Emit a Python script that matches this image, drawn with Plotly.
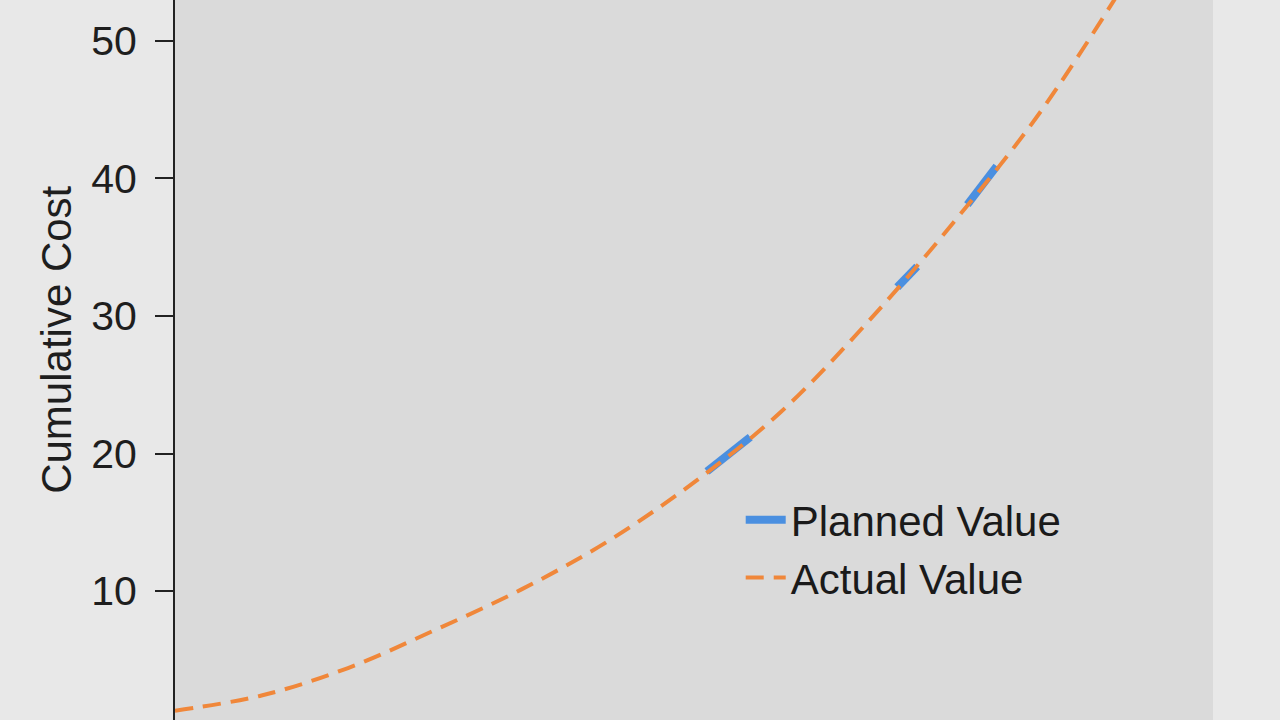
import plotly.graph_objects as go

# periods and cumulative cost
periods = [0, 1, 2, 3, 4, 5, 6, 7, 8, 9, 10, 11]
actual_value = [1.3, 2.4, 4.4, 7.15, 10.1, 13.6, 17.9, 23.0, 29.5, 36.8, 44.8, 54.4]

# planned value is only visible in a few short stretches (None = hidden)
planned_periods = [6.15, 6.4, 6.65, None, 8.35, 8.58, None, 9.16, 9.33, 9.5]
planned_value = [18.7, 19.9, 21.2, None, 32.1, 33.6, None, 38.1, 39.4, 40.9]

fig = go.Figure()

fig.add_trace(
    go.Scatter(
        x=planned_periods,
        y=planned_value,
        mode="lines",
        name="Planned Value",
        line=dict(color="#4a8fe0", width=8),
        connectgaps=False,
    )
)

fig.add_trace(
    go.Scatter(
        x=periods,
        y=actual_value,
        mode="lines",
        name="Actual Value",
        line=dict(color="#f0873a", width=4, dash="18px,10px", shape="spline"),
    )
)

fig.update_layout(
    width=1280,
    height=720,
    margin=dict(l=175, r=67, t=0, b=0),
    paper_bgcolor="#e8e8e8",
    plot_bgcolor="#dadada",
    font=dict(family="Liberation Sans, Arial, sans-serif", color="#1e1e1e"),
    showlegend=True,
    legend=dict(
        x=0.545,
        y=0.325,
        xanchor="left",
        yanchor="top",
        bgcolor="rgba(0,0,0,0)",
        font=dict(size=42, color="#1a1a1a"),
        itemwidth=40,
    ),
)

# y title placed as an annotation so it sits where the reference has it
fig.add_annotation(
    text="Cumulative Cost",
    textangle=-90,
    xref="paper",
    yref="paper",
    x=-0.1137,
    y=0.528,
    xanchor="center",
    yanchor="middle",
    showarrow=False,
    font=dict(size=42, color="#1e1e1e"),
)

fig.update_xaxes(range=[0, 12], visible=False)

fig.update_yaxes(
    range=[0.62, 52.98],
    tickvals=[0, 10, 20, 30, 40, 50],
    ticks="outside",
    ticklen=18,
    tickwidth=2,
    tickcolor="#222222",
    tickfont=dict(size=41, color="#1e1e1e"),
    ticklabelstandoff=10,
    showline=True,
    linecolor="#222222",
    linewidth=2,
    showgrid=False,
    zeroline=False,
)

# drop the page's default body margin so the figure fills the window
fig.write_html(
    "out.html",
    config={"displayModeBar": False},
    post_script="document.body.style.margin='0px';",
)
